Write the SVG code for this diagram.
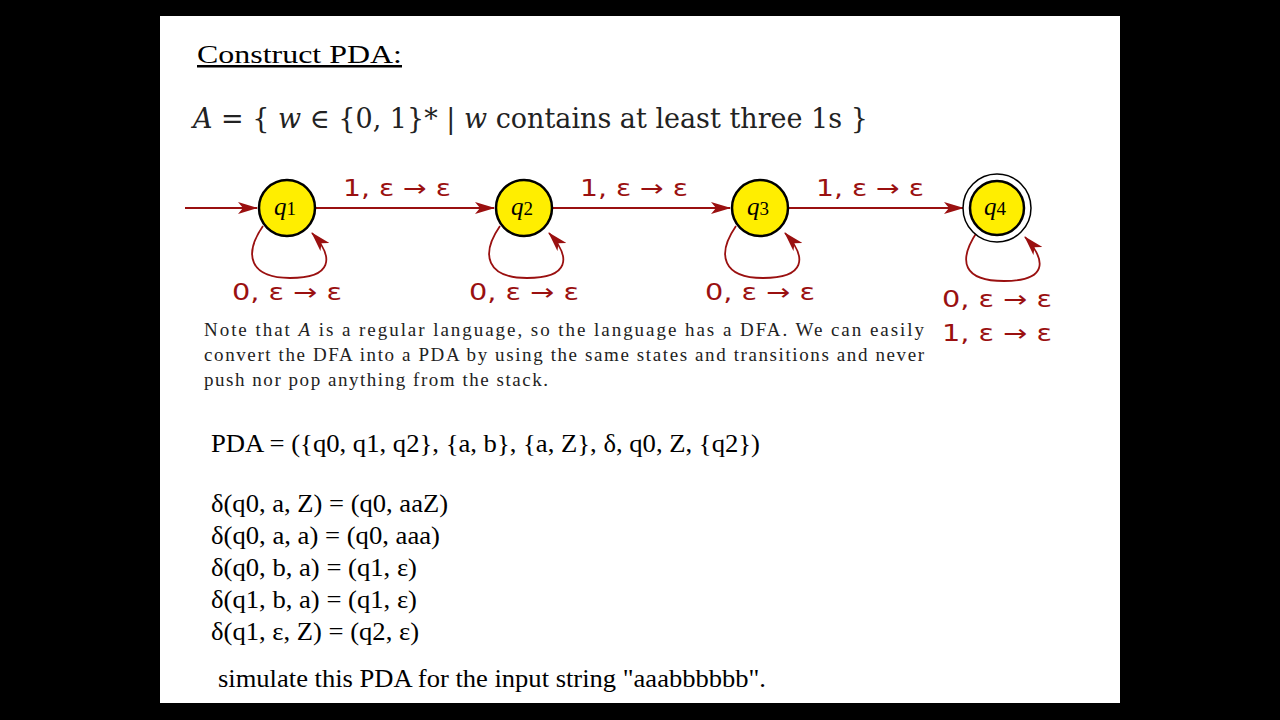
<svg xmlns="http://www.w3.org/2000/svg" width="1280" height="720" viewBox="0 0 1280 720">
<defs>
<style>
.st{fill:#ffee00;stroke:#000;stroke-width:2.5}
.ed{fill:none;stroke:#9a1010;stroke-width:1.8}
.lb{font-family:"DejaVu Sans",sans-serif;font-size:23px;fill:#9a1010}
.sn{font-family:"Liberation Serif",serif;font-size:25px;font-style:italic;fill:#000}
.tx{font-family:"Liberation Serif",serif;font-size:25px;fill:#000}
.nt{font-family:"Liberation Serif",serif;font-size:19px;fill:#222}
</style>
<marker id="ah" viewBox="0 0 20 12" refX="19" refY="6" markerWidth="20" markerHeight="12" markerUnits="userSpaceOnUse" orient="auto"><path d="M0,0 L20,6 L0,12 L5,6 Z" fill="#9a1010"/></marker>
</defs>
<rect width="1280" height="720" fill="#000"/>
<rect x="160" y="16" width="960" height="687" fill="#fff"/>
<text x="197" y="63" class="tx" font-size="29" text-decoration="underline" textLength="205" lengthAdjust="spacingAndGlyphs">Construct PDA:</text>
<text x="193" y="128" font-family="DejaVu Serif,serif" font-size="27" fill="#222"><tspan font-style="italic">A</tspan> = { <tspan font-style="italic">w</tspan> ∈ {0, 1}* | <tspan font-style="italic">w</tspan> contains at least three 1s }</text>
<g id="edges">
<path class="ed" d="M185,208 L257,208" marker-end="url(#ah)"/>
<path class="ed" d="M315,208 L494,208" marker-end="url(#ah)"/>
<path class="ed" d="M552,208 L730,208" marker-end="url(#ah)"/>
<path class="ed" d="M788,208 L963,208" marker-end="url(#ah)"/>
<path class="ed" d="M263,226 C243,255 250,278 290,278 C332,278 335,258 312,233" marker-end="url(#ah)"/>
<path class="ed" d="M500,226 C480,255 487,278 527,278 C569,278 572,258 549,233" marker-end="url(#ah)"/>
<path class="ed" d="M736,226 C716,255 723,278 763,278 C805,278 808,258 785,233" marker-end="url(#ah)"/>
<path class="ed" d="M977,232 C957,262 964,281 1004,281 C1046,281 1048,262 1025,237" marker-end="url(#ah)"/>
<text x="343" y="196" class="lb" textLength="108" lengthAdjust="spacingAndGlyphs">1, ε → ε</text>
<text x="580" y="196" class="lb" textLength="108" lengthAdjust="spacingAndGlyphs">1, ε → ε</text>
<text x="816" y="196" class="lb" textLength="108" lengthAdjust="spacingAndGlyphs">1, ε → ε</text>
<text x="232" y="300" class="lb" textLength="110" lengthAdjust="spacingAndGlyphs">0, ε → ε</text>
<text x="469" y="300" class="lb" textLength="110" lengthAdjust="spacingAndGlyphs">0, ε → ε</text>
<text x="705" y="300" class="lb" textLength="110" lengthAdjust="spacingAndGlyphs">0, ε → ε</text>
<text x="942" y="307" class="lb" textLength="110" lengthAdjust="spacingAndGlyphs">0, ε → ε</text>
<text x="942" y="341" class="lb" textLength="110" lengthAdjust="spacingAndGlyphs">1, ε → ε</text>
</g>
<g id="q1"><circle cx="287" cy="208" r="28" class="st"/><text x="274" y="215" class="sn">q<tspan font-size="19" font-style="normal">1</tspan></text></g>
<g id="q2"><circle cx="524" cy="208" r="28" class="st"/><text x="511" y="215" class="sn">q<tspan font-size="19" font-style="normal">2</tspan></text></g>
<g id="q3"><circle cx="760" cy="208" r="28" class="st"/><text x="747" y="215" class="sn">q<tspan font-size="19" font-style="normal">3</tspan></text></g>
<g id="q4"><circle cx="997" cy="208" r="34" fill="#fff" stroke="#000" stroke-width="1.5"/><circle cx="997" cy="208" r="27" class="st" stroke-width="1.8"/><text x="984" y="215" class="sn">q<tspan font-size="19" font-style="normal">4</tspan></text></g>
<text x="204" y="336" class="nt" textLength="720" lengthAdjust="spacing">Note that <tspan font-style="italic">A</tspan> is a regular language, so the language has a DFA. We can easily</text>
<text x="204" y="361" class="nt" textLength="720" lengthAdjust="spacing">convert the DFA into a PDA by using the same states and transitions and never</text>
<text x="204" y="386" class="nt" textLength="344" lengthAdjust="spacing">push nor pop anything from the stack.</text>
<text x="211" y="452" class="tx" textLength="549" lengthAdjust="spacingAndGlyphs">PDA = ({q0, q1, q2}, {a, b}, {a, Z}, δ, q0, Z, {q2})</text>
<text x="211" y="512" class="tx" textLength="237" lengthAdjust="spacingAndGlyphs">δ(q0, a, Z) = (q0, aaZ)</text>
<text x="211" y="544" class="tx" textLength="229" lengthAdjust="spacingAndGlyphs">δ(q0, a, a) = (q0, aaa)</text>
<text x="211" y="576" class="tx" textLength="206" lengthAdjust="spacingAndGlyphs">δ(q0, b, a) = (q1, ε)</text>
<text x="211" y="608" class="tx" textLength="206" lengthAdjust="spacingAndGlyphs">δ(q1, b, a) = (q1, ε)</text>
<text x="211" y="640" class="tx" textLength="208" lengthAdjust="spacingAndGlyphs">δ(q1, ε, Z) = (q2, ε)</text>
<text x="218" y="687" class="tx" textLength="548" lengthAdjust="spacingAndGlyphs">simulate this PDA for the input string "aaabbbbbb".</text>
</svg>
